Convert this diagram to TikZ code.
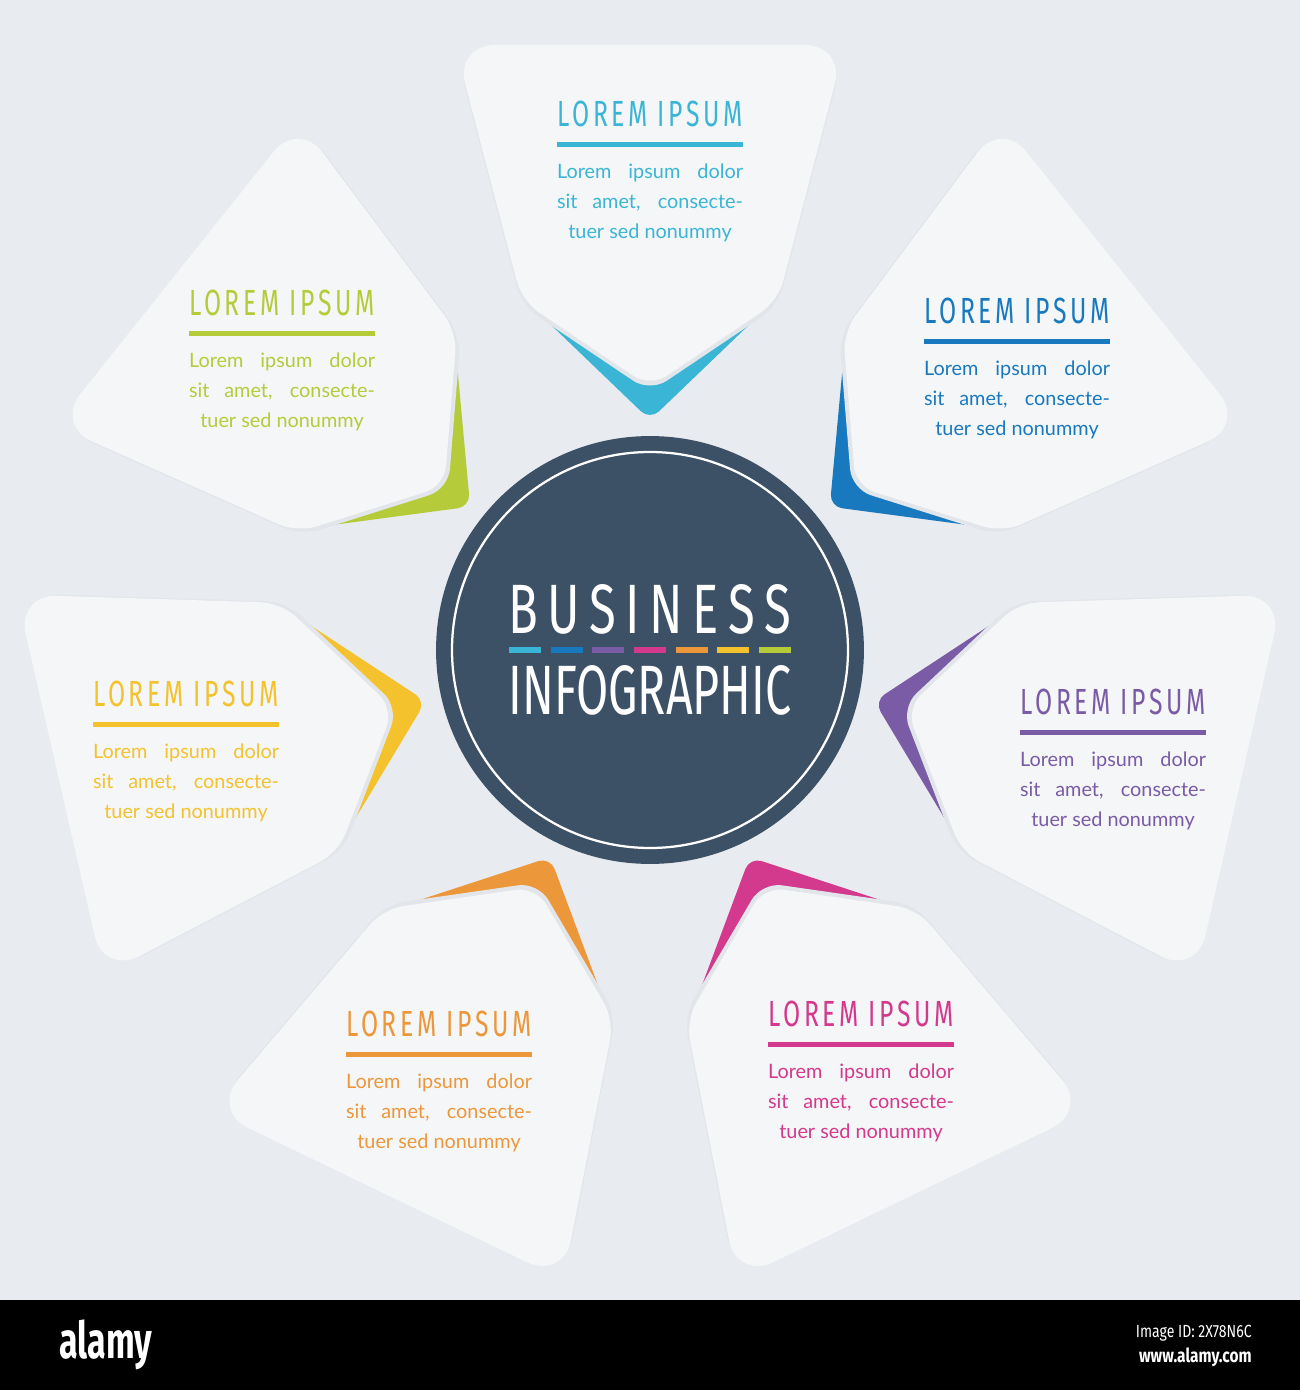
\documentclass[tikz,border=0pt]{standalone}
\usepackage{fontspec}
\usepackage{graphicx}
\setmainfont{Lato}
\newfontfamily\headfont[FakeStretch=0.62]{Fira Sans}
\newfontfamily\titlefont[FakeStretch=0.55,LetterSpace=8]{Fira Sans}
\newfontfamily\logofont[FakeStretch=0.8]{Fira Sans}

\definecolor{bgC}{HTML}{E8EBEF}
\definecolor{cardC}{HTML}{F5F6F8}
\definecolor{shadeC}{HTML}{E2E5EA}
\definecolor{hubC}{HTML}{3D5166}
\definecolor{cyanC}{HTML}{3AB5D5}
\definecolor{blueC}{HTML}{1879BE}
\definecolor{purpleC}{HTML}{7A5BA5}
\definecolor{pinkC}{HTML}{D3398C}
\definecolor{orangeC}{HTML}{EC973A}
\definecolor{yellowC}{HTML}{F3C22C}
\definecolor{greenC}{HTML}{B5CB3A}

% outline of one petal, pointing down to the hub
\newcommand{\petal}{(0,263) [rounded corners=0.4cm] -- (-128,349) [rounded corners=0.8cm]
  -- (-195,605) -- (195,605) [rounded corners=0.4cm] -- (128,349) -- cycle}

\begin{document}
\begin{tikzpicture}[x=0.02cm,y=0.02cm,
  card/.style={fill=cardC},
  cardshade/.style={fill=shadeC},
  chevron/.style={fill=#1,rounded corners=0.25cm},
  cardtext/.style={text=#1,anchor=north,inner sep=0pt,align=center,
    font=\fontsize{11.3}{17}\selectfont}]

  % background and footer
  \fill[bgC] (-650,-650) rectangle (650,650);
  \fill[black] (-650,-740) rectangle (650,-650);

  % seven petals with their texts
  \foreach \ang/\col/\tx/\ty [count=\i] in {90/cyanC/0/549, 38.57/blueC/367/352,
      -12.86/purpleC/463/-39, -64.29/pinkC/211/-351, -115.71/orangeC/-211/-361,
      -167.14/yellowC/-464/-31, 141.43/greenC/-368/360}{
    \begin{scope}[rotate=\ang-90]
      \fill[chevron=\col] (-110,335.6) -- (0,230) -- (110,335.6) -- (0,300) -- cycle;
      \fill[cardshade,shift={(0,-5)}] \petal;
      \fill[card] \petal;
    \end{scope}
    \node[cardtext=\col] (lbl\i) at (\tx,\ty) {%
      \resizebox{3.7cm}{0.51cm}{\titlefont LOREM IPSUM}\\[-0.2cm]
      \rule{3.72cm}{0.09cm}\\[0.04cm]
      \makebox[3.72cm][s]{Lorem ipsum dolor}\\
      \makebox[3.72cm][s]{sit amet, consecte-}\\
      tuer sed nonummy};
  }

  % hub
  \node[circle,fill=hubC,minimum size=8.56cm,inner sep=0pt] (hub) at (0,0) {};
  \draw[white,line width=0.045cm] (hub) circle (198);
  \node[text=white,inner sep=0pt] (biz) at (0,41) {%
    \resizebox{5.66cm}{0.98cm}{\headfont\spaceskip=0.12em\relax B U S I N E S S}};
  \node[text=white,inner sep=0pt] (info) at (0,-40) {%
    \resizebox{5.66cm}{0.98cm}{\headfont INFOGRAPHIC}};
  \foreach \col [count=\i from 0] in {cyanC,blueC,purpleC,pinkC,orangeC,yellowC,greenC}
    \fill[\col] (-141+\i*41.67,-2.7) rectangle ++(32,5.4);

  % footer texts
  \node[text=white,inner sep=0pt] (logo) at (-544,-695) {%
    \resizebox*{1.86cm}{1.0cm}{\logofont\bfseries alamy}};
  \node[anchor=east,text=white,inner sep=0pt,
    font=\logofont\fontsize{10}{12}\selectfont] (imgid) at (602,-683) {Image ID: 2X78N6C};
  \node[anchor=east,text=white,inner sep=0pt,
    font=\logofont\bfseries\fontsize{11}{13}\selectfont] (site) at (602,-707) {www.alamy.com};
\end{tikzpicture}
\end{document}
